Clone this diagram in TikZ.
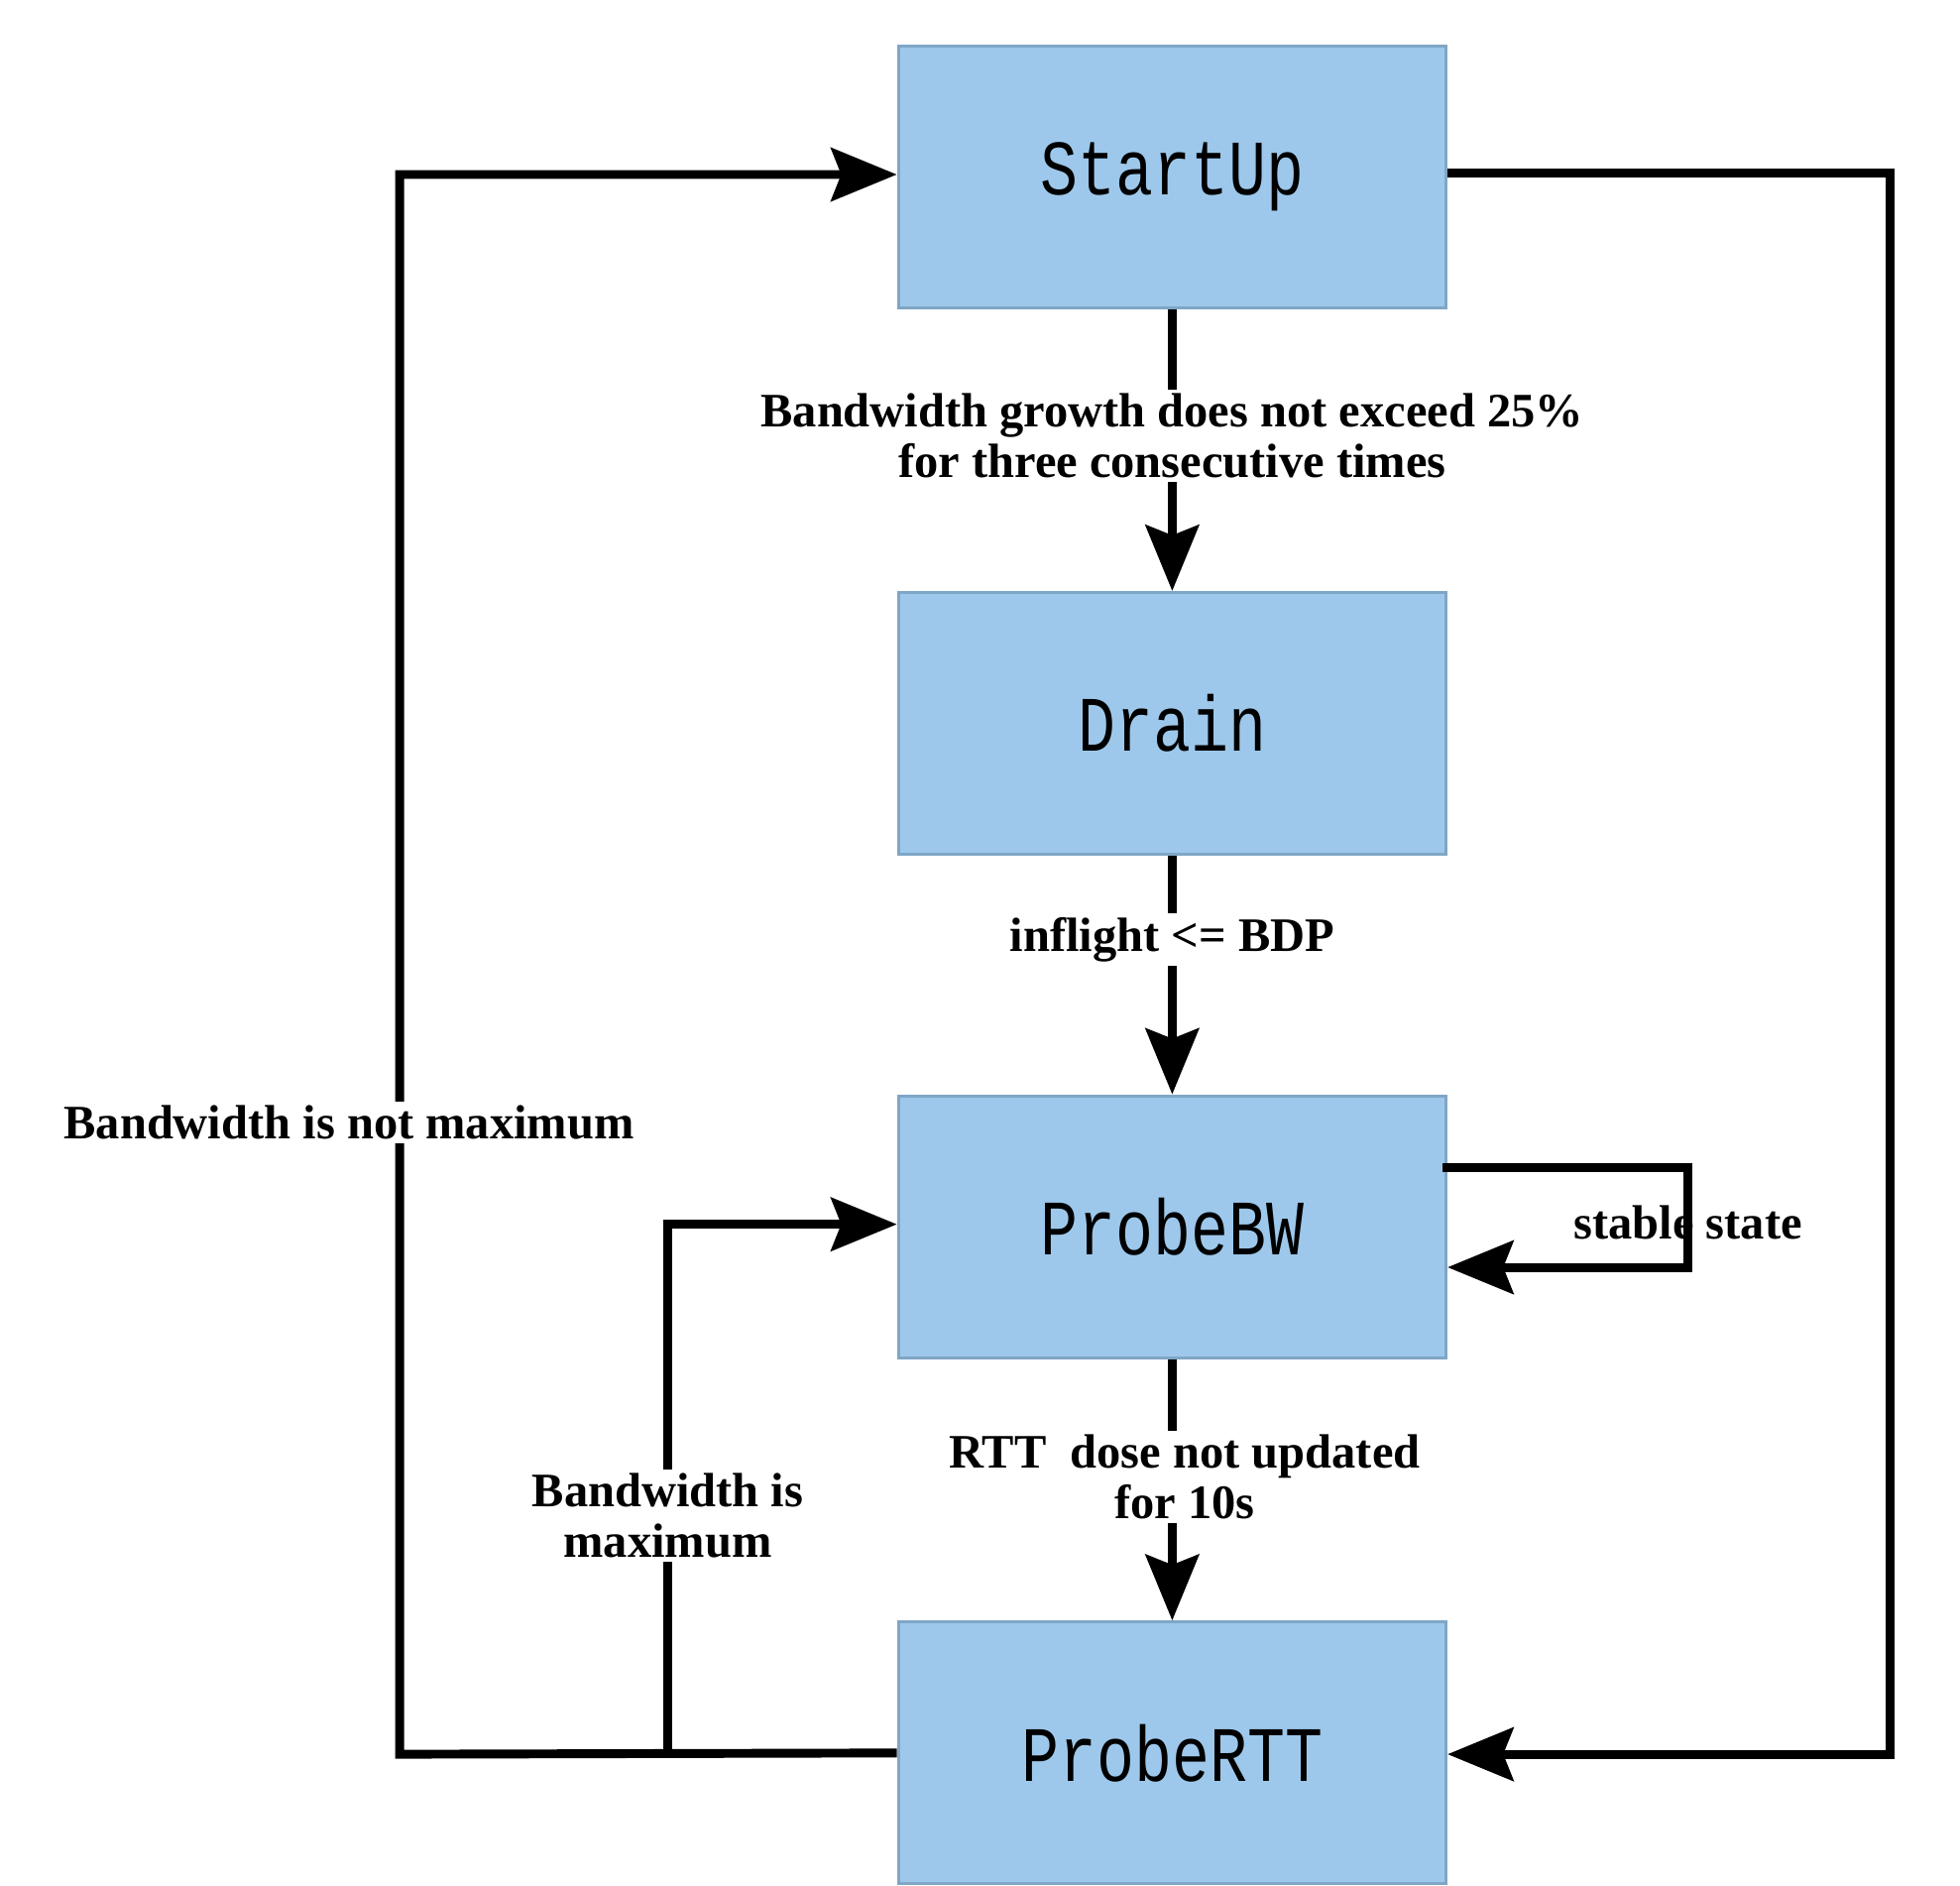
\documentclass[tikz,border=0pt]{standalone}
\usepackage{fontspec}
\setmainfont{Liberation Serif}
\newfontfamily\boxfont{Liberation Mono}
\usetikzlibrary{arrows.meta}
\definecolor{boxblue}{HTML}{9DC8EB}
\definecolor{boxedge}{HTML}{7FA6C6}
\begin{document}
\begin{tikzpicture}[x=1pt,y=-1pt,
  st/.style={draw=boxedge,line width=2.5,fill=boxblue,minimum width=433,minimum height=207,inner sep=0,
    font=\boxfont\fontsize{62}{66}\selectfont},
  ln/.style={line width=7,black,line join=miter},
  ar/.style={ln,-{Stealth[length=52,width=42,inset=8]}},
  lab/.style={font=\bfseries\fontsize{38}{40}\selectfont,fill=white,inner sep=3,align=center}]
\useasboundingbox (0,0) rectangle (1550,1491);
\node[st] (su) at (927,140) {\scalebox{0.8}[1]{StartUp}};
\node[st] (dr) at (927,572) {\scalebox{0.8}[1]{Drain}};
\node[st] (bw) at (927,970) {\scalebox{0.8}[1]{ProbeBW}};
\node[st] (rt) at (927,1386) {\scalebox{0.8}[1]{ProbeRTT}};
\coordinate (l1) at (316,1387);
\coordinate (l2) at (316,138);
\coordinate (m1) at (528,1387);
\coordinate (m2) at (528,968);
\coordinate (r1) at (1495,137);
\coordinate (r2) at (1495,1387);
\coordinate (s0) at (1141,923);
\coordinate (s1) at (1335,923);
\coordinate (s2) at (1335,1002);
\draw[ar] (su.south) -- node[lab,pos=0.45]{Bandwidth growth does not exceed 25\%\\for three consecutive times} (dr.north);
\draw[ar] (dr.south) -- node[lab,pos=0.35]{inflight <= BDP} (bw.north);
\draw[ar] (bw.south) -- node[lab,pos=0.45,xshift=10]{RTT\ \ dose not updated\\for 10s} (rt.north);
\draw[ar] (rt.west) -- (l1) -- node[lab,pos=0.4,xshift=-40]{Bandwidth is not maximum} (l2) -- (su.west |- l2);
\draw[ar] (m1) -- node[lab,pos=0.45]{Bandwidth is\\maximum} (m2) -- (bw.west |- m2);
\draw[ar] (su.east |- r1) -- (r1) -- (r2) -- (rt.east |- r2);
\draw[ar] (s0) -- (s1) -- node[lab,pos=0.55,inner sep=0,fill=none]{stable state} (s2) -- (bw.east |- s2);
\end{tikzpicture}
\end{document}
